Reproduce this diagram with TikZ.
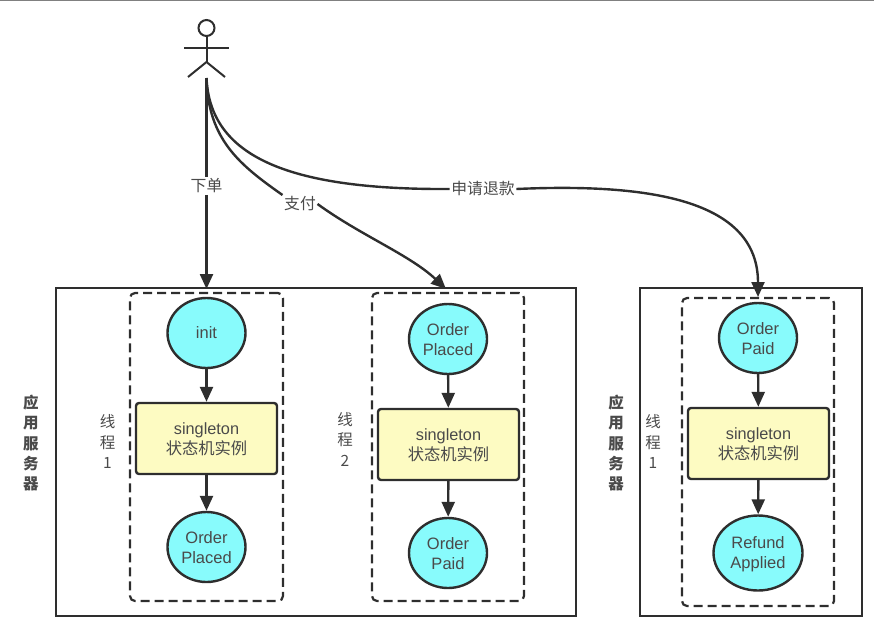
\documentclass[tikz,border=0pt]{standalone}
\usepackage{fontspec}
\setmainfont{Liberation Sans}
\newfontfamily\cjk{Noto Sans CJK SC}
\usetikzlibrary{shapes.geometric,arrows.meta}
\definecolor{inkc}{HTML}{2E2E2E}
\definecolor{textc}{HTML}{4A4A4A}
\definecolor{cyanf}{HTML}{88FBFC}
\definecolor{yellowf}{HTML}{FDFBC2}
\tikzset{
  x=1pt,y=-1pt,
  server/.style={draw=inkc,line width=2.2pt,fill=none},
  thread/.style={draw=inkc,line width=2.2pt,dash pattern=on 9pt off 5pt,rounded corners=5pt,fill=none},
  state/.style={ellipse,draw=inkc,line width=2.4pt,fill=cyanf,text=textc,inner sep=0pt,align=center,
     font=\fontsize{16.5}{20}\selectfont,minimum width=78pt,minimum height=70pt},
  machine/.style={rectangle,rounded corners=3pt,draw=inkc,line width=2.4pt,fill=yellowf,text=textc,inner sep=0pt,align=center,
     font=\fontsize{16.3}{20}\selectfont,minimum width=141pt,minimum height=71pt},
  flow/.style={draw=inkc,line width=2.4pt,-{Triangle[length=15pt,width=13pt]}},
  plainflow/.style={draw=inkc,line width=2.4pt},
  edgelabel/.style={fill=white,text=textc,inner sep=1.5pt,font=\cjk\fontsize{15.8}{18}\selectfont},
  sidelabel/.style={text=textc,inner sep=0pt,align=center,font=\cjk\fontsize{15.5}{20.5}\selectfont},
  limb/.style={draw=inkc,line width=2pt}
}
\begin{document}
\begin{tikzpicture}
\useasboundingbox (0,0) rectangle (874,629);
\draw[gray,line width=1.5pt] (0,0.7) -- (874,0.7);
% boxes
\node[server,inner sep=0pt,minimum width=520pt,minimum height=328pt] (srvA) at (316,452) {};
\node[server,inner sep=0pt,minimum width=222pt,minimum height=328pt] (srvB) at (751,452) {};
\node[thread,inner sep=0pt,minimum width=153pt,minimum height=308pt] (thA) at (206.5,447) {};
\node[thread,inner sep=0pt,minimum width=152pt,minimum height=308pt] (thB) at (448,447) {};
\node[thread,inner sep=0pt,minimum width=152pt,minimum height=308pt] (thC) at (758,452) {};
% actor
\node[circle,draw=inkc,line width=2pt,fill=white,minimum size=16pt,inner sep=0pt] (head) at (206.5,28) {};
\coordinate (hip) at (206.5,62);
\coordinate (armL) at (184,48);
\coordinate (armR) at (229,48);
\coordinate (legL) at (188,77);
\coordinate (legR) at (225,77);
\coordinate (actor) at (206.5,78);
\draw[limb] (head.south) -- (hip);
\draw[limb] (armL) -- (armR);
\draw[limb] (legL) -- (hip) -- (legR);
% states
\node[state] (s1) at (206.5,333) {\raisebox{-1pt}{init}};
\node[machine] (m1) at (206.5,438.5) {\rule{0pt}{14pt}singleton\\{\cjk 状态机实例}};
\node[state] (s2) at (206.5,547) {\rule{0pt}{14pt}Order\\Placed};
\node[state] (s3) at (448,339) {\rule{0pt}{14pt}Order\\Placed};
\node[machine] (m2) at (448.5,444.5) {\rule{0pt}{14pt}singleton\\{\cjk 状态机实例}};
\node[state] (s4) at (448,553) {\rule{0pt}{14pt}Order\\Paid};
\node[state] (s5) at (758,338) {\rule{0pt}{14pt}Order\\Paid};
\node[machine] (m3) at (758.5,443.5) {\rule{0pt}{14pt}singleton\\{\cjk 状态机实例}};
\node[state,minimum width=89pt,minimum height=75pt] (s6) at (758,553) {\rule{0pt}{14pt}Refund\\Applied};
\draw[flow] (s1) -- (m1);
\draw[flow] (m1) -- (s2);
\draw[flow] (s3) -- (m2);
\draw[flow] (m2) -- (s4);
\draw[flow] (s5) -- (m3);
\draw[flow] (m3) -- (s6);
% side labels
\node[sidelabel,font=\cjk\bfseries\fontsize{15.5}{20.2}\selectfont] (appA) at (31,443) {应\\用\\服\\务\\器};
\node[sidelabel,font=\cjk\bfseries\fontsize{15.5}{20.2}\selectfont] (appB) at (616,443) {应\\用\\服\\务\\器};
\node[sidelabel] (tl1) at (107.5,441.5) {线\\程\\1};
\node[sidelabel] (tl2) at (345,439) {线\\程\\2};
\node[sidelabel] (tl3) at (653,441.5) {线\\程\\1};
% user edges
\coordinate (t1) at (206.5,289);
\coordinate (t2) at (446,289);
\coordinate (t3) at (758,297);
\node[edgelabel] (lb1) at (206.5,186) {下单};
\node[edgelabel] (lb2) at (300,204) {支付};
\node[edgelabel] (lb3) at (483,189) {申请退款};
\draw[plainflow] (actor) -- (lb1);
\draw[flow] (lb1) -- (t1);
\draw[plainflow] (actor) .. controls (208,140) and (240,165) .. (lb2.north west);
\draw[flow] (lb2.east) .. controls (360,235) and (410,255) .. (t2);
\draw[plainflow] (actor) .. controls (210,155) and (285,190) .. (lb3.west);
\draw[flow] (lb3.east) .. controls (650,183) and (758,200) .. (t3);
\end{tikzpicture}
\end{document}
